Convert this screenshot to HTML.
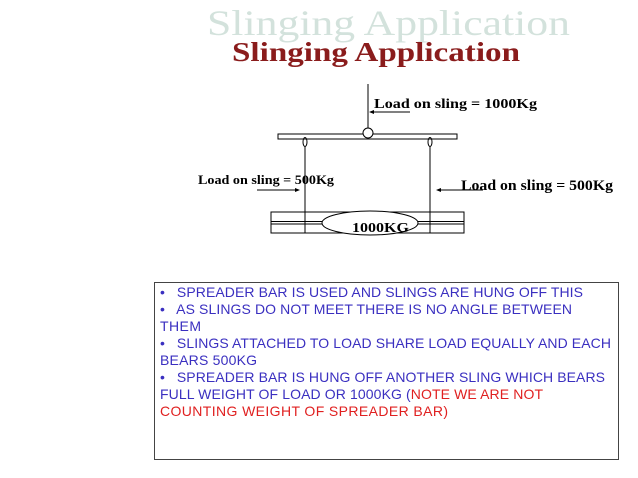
<!DOCTYPE html>
<html><head><meta charset="utf-8"><style>
html,body{margin:0;padding:0;background:#fff;width:638px;height:478px;overflow:hidden}
text{white-space:pre}
</style></head><body>
<svg width="638" height="478" viewBox="0 0 638 478" xmlns="http://www.w3.org/2000/svg">
<text x="207" y="35" font-family="Liberation Serif, serif" font-size="36" fill="#d3e2dc" textLength="363" lengthAdjust="spacingAndGlyphs">Slinging Application</text>
<text x="232" y="61" font-family="Liberation Serif, serif" font-size="27" font-weight="bold" fill="#8a1c1c" textLength="288" lengthAdjust="spacingAndGlyphs">Slinging Application</text>
<g stroke="#000" stroke-width="1" fill="none">
<line x1="368" y1="84" x2="368" y2="128"/>
<rect x="278" y="134" width="179" height="5" fill="#fff"/>
<circle cx="368" cy="133" r="5" fill="#fff"/>
<ellipse cx="305" cy="142" rx="2" ry="4.5"/>
<ellipse cx="430" cy="142" rx="2" ry="4.5"/>
<line x1="305" y1="146" x2="305" y2="233"/>
<line x1="430" y1="146" x2="430" y2="233"/>
<rect x="271" y="212" width="193" height="21"/>
<line x1="271" y1="221.5" x2="464" y2="221.5"/>
<line x1="271" y1="224" x2="464" y2="224"/>
<ellipse cx="370" cy="223" rx="48" ry="12" fill="#fff"/>
<line x1="410" y1="112" x2="372" y2="112"/>
<line x1="257" y1="190" x2="297" y2="190"/>
<line x1="483" y1="190" x2="440" y2="190"/>
</g>
<polygon points="369,112 374,110 374,114" fill="#000"/>
<polygon points="300,190 295,188 295,192" fill="#000"/>
<polygon points="436,190 441,188 441,192" fill="#000"/>
<text x="374" y="108" font-family="Liberation Serif, serif" font-size="14" font-weight="bold" textLength="163" lengthAdjust="spacingAndGlyphs">Load on sling = 1000Kg</text>
<text x="198" y="184" font-family="Liberation Serif, serif" font-size="12.5" font-weight="bold" textLength="136" lengthAdjust="spacingAndGlyphs">Load on sling = 500Kg</text>
<text x="461" y="190" font-family="Liberation Serif, serif" font-size="14.5" font-weight="bold" textLength="152" lengthAdjust="spacingAndGlyphs">Load on sling = 500Kg</text>
<text x="352" y="232" font-family="Liberation Serif, serif" font-size="14" font-weight="bold" textLength="57" lengthAdjust="spacingAndGlyphs">1000KG</text>
<rect x="154.5" y="282.5" width="464" height="177" fill="none" stroke="#444" stroke-width="1"/>
<g font-family="Liberation Sans, sans-serif" font-size="14" fill="#3a2fc0" lengthAdjust="spacingAndGlyphs">
<text x="160" y="297" textLength="423">•   SPREADER BAR IS USED AND SLINGS ARE HUNG OFF THIS</text>
<text x="160" y="314" textLength="412">•   AS SLINGS DO NOT MEET THERE IS NO ANGLE BETWEEN</text>
<text x="160" y="331" textLength="41">THEM</text>
<text x="160" y="348" textLength="451">•   SLINGS ATTACHED TO LOAD SHARE LOAD EQUALLY AND EACH</text>
<text x="160" y="365" textLength="97">BEARS 500KG</text>
<text x="160" y="382" textLength="445">•   SPREADER BAR IS HUNG OFF ANOTHER SLING WHICH BEARS</text>
<text x="160" y="399" textLength="383">FULL WEIGHT OF LOAD OR 1000KG (<tspan fill="#e02020">NOTE WE ARE NOT</tspan></text>
<text x="160" y="416" fill="#e02020" textLength="288">COUNTING WEIGHT OF SPREADER BAR)</text>
</g>
</svg>
</body></html>
